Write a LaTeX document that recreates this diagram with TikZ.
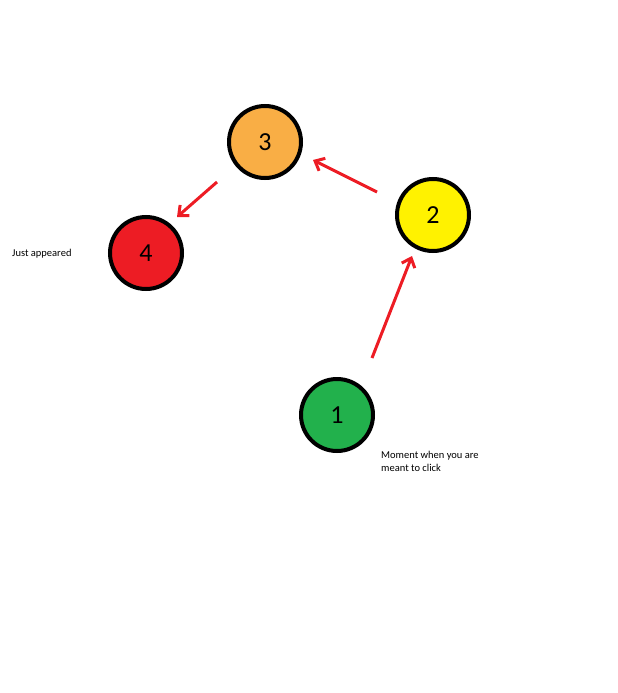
\documentclass[tikz,border=0pt]{standalone}
\usepackage{fontspec}
\setmainfont{Carlito}
\usetikzlibrary{arrows.meta}
\definecolor{corange}{HTML}{F9AE45}
\definecolor{cyellow}{HTML}{FFF200}
\definecolor{cred}{HTML}{ED1C24}
\definecolor{cgreen}{HTML}{22B14C}
\begin{document}
\begin{tikzpicture}[x=1pt,y=-1pt,
  ball/.style={circle,draw=black,line width=4pt,minimum size=72pt,inner sep=0pt,font=\fontsize{26}{28}\selectfont},
  arr/.style={draw=cred,line width=3pt,-{Straight Barb[length=8pt,width=14pt]}},
  lbl/.style={font=\fontsize{10.5}{13}\selectfont,align=left,anchor=north west,inner sep=0pt}]
\useasboundingbox (0,0) rectangle (618,693);
\node[ball,fill=corange] (n3) at (265,142) {3};
\node[ball,fill=cyellow] (n2) at (433,215) {2};
\node[ball,fill=cred] (n4) at (146,253) {4};
\node[ball,fill=cgreen] (n1) at (337,415) {1};
\coordinate (a1s) at (372,358); \coordinate (a1e) at (412,256);
\coordinate (a2s) at (377,192); \coordinate (a2e) at (313,160);
\coordinate (a3s) at (217,182); \coordinate (a3e) at (177,217);
\draw[arr] (a1s) -- (a1e);
\draw[arr] (a2s) -- (a2e);
\draw[arr] (a3s) -- (a3e);
\node[lbl] (t4) at (12,249) {Just appeared};
\node[lbl] (t1) at (381,451) {Moment when you are\\meant to click};
\end{tikzpicture}
\end{document}
